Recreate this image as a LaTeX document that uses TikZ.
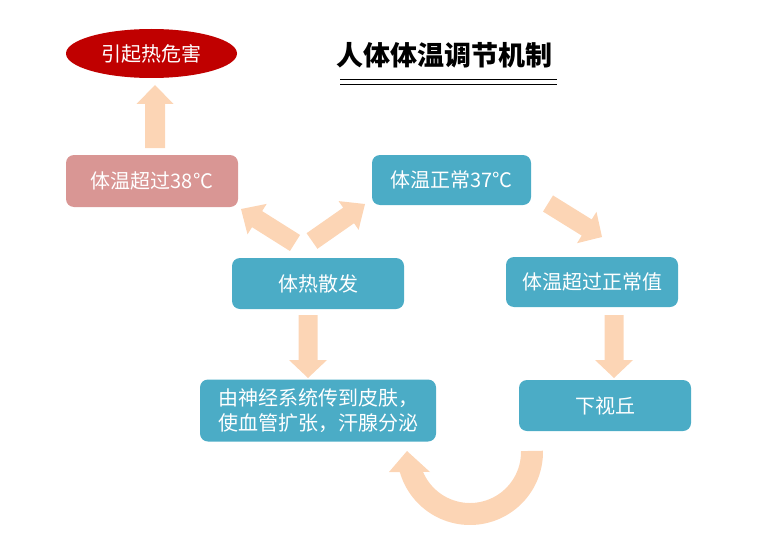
\documentclass[tikz,border=0pt]{standalone}
\usepackage{fontspec}
\setmainfont{Noto Sans CJK SC}
\usetikzlibrary{calc,shapes.geometric}
\definecolor{boxteal}{HTML}{4BACC6}
\definecolor{boxpink}{HTML}{D99694}
\definecolor{peach}{HTML}{FCD5B5}
\definecolor{hazred}{HTML}{C00000}
\newcommand{\blockarrow}[5]{%
  \path (#2) coordinate (tmpB) ($(#2)!#5!(#1)$) coordinate (tmpH);
  \fill[peach] ($(#1)!#3!90:(tmpB)$) -- ($(tmpH)!#3!-90:(#1)$) -- ($(tmpH)!#4!-90:(#1)$)
    -- (tmpB) -- ($(tmpH)!#4!90:(#1)$) -- ($(tmpH)!#3!90:(#1)$) -- ($(#1)!#3!-90:(tmpB)$) -- cycle;}
\tikzset{
  box/.style={rounded corners=8pt, fill=boxteal, text=white, inner sep=0pt,
    font=\fontsize{20}{25}\selectfont},
  pinkbox/.style={box, fill=boxpink},
  hazard/.style={ellipse, fill=hazred, text=white, inner sep=0pt,
    font=\fontsize{20}{25}\selectfont},
  titletext/.style={font=\fontsize{27}{32}\selectfont\bfseries, text=black},
}
\begin{document}
\begin{tikzpicture}[x=1pt,y=-1pt]
\useasboundingbox (0,0) rectangle (783,559);
% title
\node[titletext] (title) at (444.5,55) {人体体温调节机制};
\draw[line width=1pt] (340,79.5) -- (557,79.5);
\draw[line width=1pt] (340,85) -- (557,85);
% nodes
\node[hazard, minimum width=171pt, minimum height=49pt] (haz) at (151.5,53.5) {引起热危害};
\node[pinkbox, minimum width=172pt, minimum height=52pt] (hot) at (152,181) {体温超过38°C};
\node[box, minimum width=159pt, minimum height=50pt] (norm) at (451.5,180) {体温正常37°C};
\node[box, minimum width=172pt, minimum height=51pt] (heat) at (318,283.5) {体热散发};
\node[box, minimum width=172pt, minimum height=50pt] (over) at (592,282) {体温超过正常值};
\node[box, minimum width=236pt, minimum height=62pt, align=left, text width=200pt, inner xsep=17pt] (nerve) at (318,410.5) {由神经系统传到皮肤，\\使血管扩张，汗腺分泌};
\node[box, minimum width=172pt, minimum height=51pt] (hypo) at (605,405.5) {下视丘};
% arrows
\coordinate (a1s) at (155,148); \coordinate (a1e) at (155,85);
\coordinate (a2s) at (295,243); \coordinate (a2e) at (241,209);
\coordinate (a3s) at (312,241); \coordinate (a3e) at (365,204);
\coordinate (a4s) at (548,203.5); \coordinate (a4e) at (602,237);
\coordinate (a5s) at (308,315); \coordinate (a5e) at (308,378);
\coordinate (a6s) at (614,315); \coordinate (a6e) at (614,378);
\blockarrow{a1s}{a1e}{10pt}{18.5pt}{19pt}
\blockarrow{a2s}{a2e}{9.5pt}{18pt}{19pt}
\blockarrow{a3s}{a3e}{9.5pt}{17.5pt}{20pt}
\blockarrow{a4s}{a4e}{9.5pt}{18.5pt}{18pt}
\blockarrow{a5s}{a5e}{9.5pt}{19pt}{18pt}
\blockarrow{a6s}{a6e}{9.5pt}{19pt}{18pt}
% curved return arrow
\fill[peach] plot[domain=-1:164.1,samples=60] ({470+73*cos(\x)},{452+73*sin(\x)})
  -- (389,472) -- (407,451) -- (430,472)
  -- plot[domain=157:-1,samples=60] ({470+51*cos(\x)},{452+51*sin(\x)}) -- cycle;
\end{tikzpicture}
\end{document}
